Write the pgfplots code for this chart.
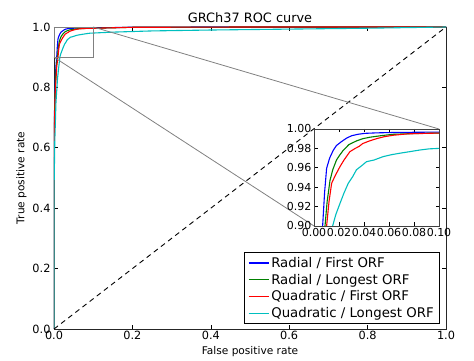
\documentclass[border=0pt]{standalone}
\usepackage{pgfplots}
\pgfplotsset{compat=1.18}
\usepackage{pgfplotstable}
\usepackage{fontspec}
\setmainfont{DejaVu Sans}
\definecolor{mplblue}{rgb}{0,0,1}
\definecolor{mplgreen}{rgb}{0,0.5,0}
\definecolor{mplred}{rgb}{1,0,0}
\definecolor{mplcyan}{rgb}{0,0.75,0.75}

\pgfplotstableread{
x y
0 0
0 0.5
0.001 0.70
0.003 0.82
0.005 0.87
0.0069 0.90
0.0085 0.935
0.0101 0.9595
0.0125 0.970
0.0154 0.978
0.018 0.983
0.022 0.987
0.026 0.9905
0.030 0.993
0.035 0.9945
0.0407 0.9955
0.05 0.996
0.06 0.9963
0.08 0.9966
0.1 0.9968
0.2 0.9993
0.4 1.0
1 1
}\blueT

\pgfplotstableread{
x y
0 0
0 0.5
0.001 0.68
0.003 0.80
0.006 0.87
0.0088 0.90
0.0105 0.925
0.0128 0.947
0.015 0.958
0.018 0.968
0.0205 0.973
0.0234 0.978
0.028 0.984
0.034 0.9877
0.039 0.990
0.0447 0.9915
0.053 0.993
0.063 0.9945
0.08 0.9953
0.1 0.9958
0.2 0.999
0.5 1.0
1 1
}\greenT

\pgfplotstableread{
x y
0 0
0 0.5
0.001 0.66
0.003 0.78
0.007 0.87
0.0101 0.90
0.012 0.925
0.0141 0.944
0.017 0.952
0.0207 0.961
0.024 0.968
0.0287 0.9766
0.033 0.980
0.036 0.982
0.039 0.985
0.044 0.9875
0.050 0.990
0.056 0.992
0.063 0.9935
0.075 0.995
0.1 0.9958
0.2 0.999
0.5 1.0
1 1
}\redT

\pgfplotstableread{
x y
0 0
0 0.45
0.002 0.62
0.005 0.75
0.009 0.83
0.0149 0.90
0.0175 0.912
0.0207 0.923
0.024 0.934
0.0274 0.944
0.031 0.951
0.034 0.958
0.038 0.962
0.042 0.9663
0.048 0.968
0.0553 0.9715
0.062 0.9735
0.0686 0.975
0.076 0.9765
0.0846 0.9783
0.092 0.9795
0.1 0.980
0.15 0.983
0.25 0.987
0.4 0.990
0.6 0.993
0.8 0.996
1 1
}\cyanT

\begin{document}
\begin{tikzpicture}[x=1pt,y=1pt]
\useasboundingbox (0,0) rectangle (474,361);
\begin{axis}[
  name=main,
  at={(54pt,32pt)}, anchor=south west,
  scale only axis, width=392pt, height=302pt,
  xmin=0, xmax=1, ymin=0, ymax=1,
  xtick={0,0.2,0.4,0.6,0.8,1.0},
  ytick={0,0.2,0.4,0.6,0.8,1.0},
  tick align=inside,
  major tick length=4pt,
  axis line style={line width=0.9pt, black!85},
  every tick/.style={black, line width=0.6pt},
  ticklabel style={font=\fontsize{11.3}{13}\selectfont},
  xticklabel style={yshift=1pt},
  /pgf/number format/assume math mode=true,
  xticklabel style={/pgf/number format/.cd, fixed, fixed zerofill, precision=1},
  yticklabel style={/pgf/number format/.cd, fixed, fixed zerofill, precision=1},
  title={GRCh37 ROC curve},
  title style={font=\fontsize{12.9}{14}\selectfont, yshift=-5pt},
  xlabel={False positive rate},
  ylabel={True positive rate},
  label style={font=\fontsize{10.6}{12}\selectfont},
  xlabel style={yshift=0pt},
  ylabel style={yshift=-1pt},
  legend style={at={(1,0)}, anchor=south east, xshift=-6pt, yshift=5pt,
    draw=black, line width=0.7pt, font=\fontsize{13.3}{15.5}\selectfont,
    row sep=1.2pt, inner xsep=4pt, inner ysep=2.5pt, cells={anchor=west}},
  legend image code/.code={\draw[#1, line width=1.4pt] (0pt,0pt) -- (20pt,0pt);},
  legend cell align=left,
]
\addplot[mplblue, line width=1.1pt] table[x=x,y=y]{\blueT};
\addlegendentry{Radial / First ORF}
\addplot[mplgreen, line width=1.1pt] table[x=x,y=y]{\greenT};
\addlegendentry{Radial / Longest ORF}
\addplot[mplred, line width=1.1pt] table[x=x,y=y]{\redT};
\addlegendentry{Quadratic / First ORF}
\addplot[mplcyan, line width=1.1pt] table[x=x,y=y]{\cyanT};
\addlegendentry{Quadratic / Longest ORF}
\addplot[black, dashed, dash pattern=on 5pt off 4pt, line width=0.9pt, forget plot] coordinates {(0,0) (1,1)};
\draw[gray, line width=0.8pt] (axis cs:0,0.9) rectangle (axis cs:0.1,1.0);
\coordinate (zbl) at (axis cs:0,0.9);
\coordinate (ztr) at (axis cs:0.1,1.0);
\end{axis}
\draw[gray, line width=0.8pt] (ztr) -- (439pt,232pt);
\draw[gray, line width=0.8pt] (zbl) -- (314pt,135pt);
\begin{axis}[
  name=inset,
  at={(314pt,135pt)}, anchor=south west,
  scale only axis, width=125pt, height=97pt,
  xmin=0, xmax=0.1, ymin=0.9, ymax=1.0,
  axis background/.style={fill=white},
  xtick={0,0.02,0.04,0.06,0.08,0.1},
  ytick={0.9,0.92,0.94,0.96,0.98,1.0},
  tick align=inside,
  major tick length=3.5pt,
  axis line style={line width=0.9pt, black!75},
  every tick/.style={black, line width=0.6pt},
  ticklabel style={font=\fontsize{11}{13}\selectfont},
  xticklabel style={yshift=1.5pt},
  yticklabel style={xshift=1pt},
  /pgf/number format/assume math mode=true,
  xticklabel style={/pgf/number format/.cd, fixed, fixed zerofill, precision=2},
  yticklabel style={/pgf/number format/.cd, fixed, fixed zerofill, precision=2},
  scaled ticks=false,
]
\addplot[mplblue, line width=1.1pt] table[x=x,y=y]{\blueT};
\addplot[mplgreen, line width=1.1pt] table[x=x,y=y]{\greenT};
\addplot[mplred, line width=1.1pt] table[x=x,y=y]{\redT};
\addplot[mplcyan, line width=1.1pt] table[x=x,y=y]{\cyanT};
\end{axis}
\end{tikzpicture}
\end{document}
